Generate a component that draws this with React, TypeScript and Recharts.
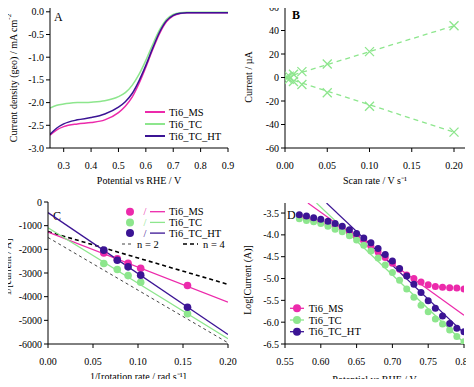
import React from 'react';
import { ComposedChart, Line, Scatter, XAxis, YAxis, Legend } from 'recharts';

const PINK = '#ec2aab';
const GREEN = '#8de68d';
const NAVY = '#3b1494';
const FONT = '"Liberation Serif", "Times New Roman", Times, serif';

// A - polarisation curves
const potentialA = [0.25, 0.275, 0.3, 0.35, 0.4, 0.45, 0.5, 0.525, 0.55, 0.575, 0.6, 0.625, 0.65, 0.675, 0.7, 0.725, 0.75, 0.8, 0.85, 0.9];
const msA = [-2.72, -2.6, -2.53, -2.47, -2.44, -2.38, -2.22, -2.08, -1.88, -1.58, -1.22, -0.83, -0.48, -0.22, -0.09, -0.04, -0.02, -0.02, -0.02, -0.02];
const tcA = [-2.12, -2.06, -2.03, -2.0, -1.99, -1.96, -1.87, -1.78, -1.62, -1.38, -1.07, -0.72, -0.4, -0.17, -0.06, -0.02, -0.01, -0.01, -0.01, -0.01];
const htA = [-2.7, -2.56, -2.47, -2.38, -2.33, -2.25, -2.1, -1.98, -1.8, -1.52, -1.18, -0.8, -0.45, -0.2, -0.08, -0.03, -0.02, -0.02, -0.02, -0.02];
const ticksAx = [0.3, 0.4, 0.5, 0.6, 0.7, 0.8, 0.9];
const ticksAy = [-3, -2.5, -2, -1.5, -1, -0.5, 0];

// B - capacitive current vs scan rate
const scanRate = [0.002, 0.005, 0.01, 0.02, 0.05, 0.1, 0.2];
const anodic = [0.5, 1.2, 2.8, 5, 11.5, 22, 44];
const cathodic = [-0.5, -1.5, -3.4, -6, -13, -24.5, -46.5];
const fitRateB = [0, 0.2];
const fitAnodic = [0, 44];
const fitCathodic = [0, -46.5];
const ticksBx = [0, 0.05, 0.1, 0.15, 0.2];
const ticksBy = [-60, -40, -20, 0, 20, 40, 60];

// C - Koutecky-Levich
const invRotation = [0.062, 0.077, 0.089, 0.103, 0.155];
const msC = [-2150, -2400, -2590, -2800, -3530];
const tcC = [-2600, -2850, -3110, -3390, -4720];
const htC = [-2035, -2460, -2740, -3090, -4450];
const fitX = [0, 0.2];
const msFitC = [-1270, -4230];
const tcFitC = [-1090, -5780];
const htFitC = [-450, -5600];
const n2C = [-1500, -5950];
const n4C = [-1250, -3480];
const ticksCx = [0, 0.05, 0.1, 0.15, 0.2];
const ticksCy = [-6000, -5000, -4000, -3000, -2000, -1000, 0];

// D - Tafel
const potentialD = [0.57, 0.58, 0.59, 0.6, 0.61, 0.62, 0.63, 0.64, 0.65, 0.66, 0.67, 0.68, 0.69, 0.7, 0.71, 0.72, 0.73, 0.74, 0.75, 0.76, 0.77, 0.78, 0.79, 0.8];
const msD = [-3.58, -3.62, -3.66, -3.7, -3.75, -3.81, -3.87, -3.95, -4.04, -4.14, -4.26, -4.39, -4.52, -4.65, -4.79, -4.92, -5.0, -5.08, -5.14, -5.18, -5.2, -5.21, -5.22, -5.24];
const tcD = [-3.63, -3.67, -3.7, -3.74, -3.8, -3.87, -3.93, -4.02, -4.12, -4.24, -4.37, -4.53, -4.69, -4.86, -5.04, -5.24, -5.43, -5.61, -5.76, -5.93, -6.04, -6.18, -6.33, -6.45];
const htD = [-3.54, -3.57, -3.61, -3.64, -3.69, -3.74, -3.8, -3.88, -3.97, -4.07, -4.18, -4.31, -4.45, -4.6, -4.77, -4.94, -5.13, -5.32, -5.51, -5.68, -5.86, -6.03, -6.14, -6.22];
const msFitD = { x: [0.582, 0.8], y: [-3.27, -5.84] };
const tcFitD = { x: [0.594, 0.8], y: [-3.27, -6.47] };
const htFitD = { x: [0.608, 0.8], y: [-3.27, -6.25] };
const ticksDx = [0.55, 0.6, 0.65, 0.7, 0.75, 0.8];
const ticksDy = [-6.5, -6, -5.5, -5, -4.5, -4, -3.5];

const seriesNames = ['Ti6_MS', 'Ti6_TC', 'Ti6_TC_HT'];
const seriesColors = [PINK, GREEN, NAVY];

const zip = (xs: number[], ys: number[]) => xs.map((x, i) => ({ x, y: ys[i] }));

const tickStyle = { fontSize: 10, fill: '#000' };

const dot = (color: string, r: number) => (p: any) => <circle cx={p.cx} cy={p.cy} r={r} fill={color} />;
const cross = (color: string) => (p: any) => (
  <path
    d={`M${p.cx - 4.5},${p.cy - 4.5}L${p.cx + 4.5},${p.cy + 4.5}M${p.cx - 4.5},${p.cy + 4.5}L${p.cx + 4.5},${p.cy - 4.5}`}
    stroke={color}
    strokeWidth={1.3}
    fill="none"
  />
);

// top and right axis lines close the box around each plot
const frame = (xDomain: number[], yDomain: number[]) => [
  <XAxis key="ft" xAxisId="top" orientation="top" type="number" domain={xDomain} allowDataOverflow height={0} tick={false} tickLine={false} stroke="#000" />,
  <YAxis key="fr" yAxisId="right" orientation="right" type="number" domain={yDomain} allowDataOverflow width={0} tick={false} tickLine={false} stroke="#000" />,
];

// rotated y-axis title, centred on (x, y)
const YTitle = ({ x, y, children }: { x: number; y: number; children: React.ReactNode }) => (
  <text x={x} y={y} transform={`rotate(-90, ${x}, ${y})`} textAnchor="middle" dominantBaseline="central" fontSize={10} fill="#000">
    {children}
  </text>
);

const LegendA = () => (
  <svg width={95} height={40} style={{ fontFamily: FONT }}>
    {seriesNames.map((name, i) => (
      <g key={name}>
        <line x1={5} x2={25} y1={8 + i * 12} y2={8 + i * 12} stroke={seriesColors[i]} strokeWidth={2} />
        <text x={29} y={8 + i * 12 + 3.5} fontSize={10.5} fill="#000">{name}</text>
      </g>
    ))}
  </svg>
);

const LegendC = () => (
  <svg width={118} height={46} style={{ fontFamily: FONT }}>
    {seriesNames.map((name, i) => {
      const y = 7.7 + i * 10.7;
      return (
        <g key={name}>
          <circle cx={12} cy={y} r={4} fill={seriesColors[i]} />
          <text x={27} y={y + 3.5} fontSize={10.5} fill={seriesColors[i]} textAnchor="middle">/</text>
          <line x1={32} x2={47} y1={y} y2={y} stroke={seriesColors[i]} strokeWidth={1.3} />
          <text x={51} y={y + 3.5} fontSize={10.5} fill="#000">{name}</text>
        </g>
      );
    })}
    <line x1={4} x2={15} y1={40} y2={40} stroke="#444" strokeWidth={1} strokeDasharray="3 3" />
    <text x={19} y={43.5} fontSize={10.5} fill="#000">n = 2</text>
    <line x1={65} x2={80} y1={40} y2={40} stroke="#000" strokeWidth={1.6} strokeDasharray="4 3" />
    <text x={85} y={43.5} fontSize={10.5} fill="#000">n = 4</text>
  </svg>
);

const LegendD = () => (
  <svg width={80} height={40} style={{ fontFamily: FONT }}>
    {seriesNames.map((name, i) => {
      const y = 8.3 + i * 11.7;
      return (
        <g key={name}>
          <line x1={3} x2={17} y1={y} y2={y} stroke={seriesColors[i]} strokeWidth={1.3} />
          <circle cx={10} cy={y} r={4} fill={seriesColors[i]} />
          <text x={21.7} y={y + 3.5} fontSize={10.5} fill="#000">{name}</text>
        </g>
      );
    })}
  </svg>
);

const legendWrap = (left: number, top: number, width: number, height: number) => ({
  layout: 'vertical' as const,
  align: 'center' as const,
  verticalAlign: 'middle' as const,
  wrapperStyle: { left, top, width, height, margin: 0 },
});

const PanelA = () => (
  <ComposedChart width={237} height={190} margin={{ top: 5, right: 9, bottom: 0, left: 0 }}>
    <XAxis dataKey="x" type="number" domain={[0.25, 0.9]} ticks={ticksAx} tickFormatter={(v) => v.toFixed(1)} allowDataOverflow
      height={42} tickSize={4} tickMargin={10} stroke="#000" tick={tickStyle}
      label={{ value: 'Potential vs RHE / V', position: 'insideBottom', offset: 6, fontSize: 10, fill: '#000' }} />
    <YAxis dataKey="y" type="number" domain={[-3, 0.15]} ticks={ticksAy} tickFormatter={(v) => v.toFixed(1)} allowDataOverflow
      width={50} tickSize={4} tickMargin={2} stroke="#000" tick={tickStyle} />
    {frame([0.25, 0.9], [-3, 0.15])}
    <Line data={zip(potentialA, msA)} dataKey="y" type="monotone" stroke={PINK} strokeWidth={1.5} dot={false} isAnimationActive={false} />
    <Line data={zip(potentialA, tcA)} dataKey="y" type="monotone" stroke={GREEN} strokeWidth={1.5} dot={false} isAnimationActive={false} />
    <Line data={zip(potentialA, htA)} dataKey="y" type="monotone" stroke={NAVY} strokeWidth={1.5} dot={false} isAnimationActive={false} />
    <Legend {...legendWrap(140, 104, 95, 40)} content={() => <LegendA />} />
    <YTitle x={13} y={78}>
      Current density (geo) / mA cm<tspan fontSize={7} dy={-4}>-2</tspan>
    </YTitle>
    <text x={54} y={20.5} fontSize={12} fill="#000">A</text>
  </ComposedChart>
);

const PanelB = () => (
  <ComposedChart width={237} height={190} margin={{ top: 7, right: 9, bottom: 0, left: 0 }}>
    <XAxis dataKey="x" type="number" domain={[0, 0.213]} ticks={ticksBx} tickFormatter={(v) => v.toFixed(2)} allowDataOverflow
      height={42} tickSize={4} tickMargin={10} stroke="#000" tick={tickStyle}
      label={{ value: 'Scan rate / V s⁻¹', position: 'insideBottom', offset: 6, fontSize: 10, fill: '#000' }} />
    <YAxis dataKey="y" type="number" domain={[-60, 60]} ticks={ticksBy} allowDataOverflow
      width={48} tickSize={4} tickMargin={2} stroke="#000" tick={tickStyle} />
    {frame([0, 0.213], [-60, 60])}
    <Line data={zip(fitRateB, fitAnodic)} dataKey="y" stroke={GREEN} strokeWidth={1.3} strokeDasharray="5 4" dot={false} isAnimationActive={false} />
    <Line data={zip(fitRateB, fitCathodic)} dataKey="y" stroke={GREEN} strokeWidth={1.3} strokeDasharray="5 4" dot={false} isAnimationActive={false} />
    <Scatter data={zip(scanRate, anodic)} shape={cross(GREEN)} isAnimationActive={false} />
    <Scatter data={zip(scanRate, cathodic)} shape={cross(GREEN)} isAnimationActive={false} />
    <YTitle x={11} y={77}>Current / µA</YTitle>
    <text x={55} y={18.5} fontSize={12} fontWeight="bold" fill="#000">B</text>
  </ComposedChart>
);

const PanelC = () => (
  <ComposedChart width={237} height={197} margin={{ top: 12, right: 9, bottom: 0, left: 0 }}>
    <XAxis dataKey="x" type="number" domain={[0, 0.2]} ticks={ticksCx} tickFormatter={(v) => v.toFixed(2)} allowDataOverflow
      height={43} tickSize={4} tickMargin={10} stroke="#000" tick={tickStyle}
      label={{ value: '1/[rotation rate / rad s⁻¹]', position: 'insideBottom', offset: 7, fontSize: 10, fill: '#000' }} />
    <YAxis dataKey="y" type="number" domain={[-6000, 0]} ticks={ticksCy} allowDataOverflow
      width={48} tickSize={4} tickMargin={2} stroke="#000" tick={tickStyle} />
    {frame([0, 0.2], [-6000, 0])}
    <Line data={zip(fitX, n2C)} dataKey="y" stroke="#444" strokeWidth={1} strokeDasharray="3 3" dot={false} isAnimationActive={false} />
    <Line data={zip(fitX, n4C)} dataKey="y" stroke="#000" strokeWidth={1.6} strokeDasharray="4 3" dot={false} isAnimationActive={false} />
    <Line data={zip(fitX, msFitC)} dataKey="y" stroke={PINK} strokeWidth={1.3} dot={false} isAnimationActive={false} />
    <Line data={zip(fitX, tcFitC)} dataKey="y" stroke={GREEN} strokeWidth={1.3} dot={false} isAnimationActive={false} />
    <Line data={zip(fitX, htFitC)} dataKey="y" stroke={NAVY} strokeWidth={1.3} dot={false} isAnimationActive={false} />
    <Scatter data={zip(invRotation, msC)} shape={dot(PINK, 3.8)} isAnimationActive={false} />
    <Scatter data={zip(invRotation, tcC)} shape={dot(GREEN, 3.8)} isAnimationActive={false} />
    <Scatter data={zip(invRotation, htC)} shape={dot(NAVY, 3.8)} isAnimationActive={false} />
    <Legend {...legendWrap(118, 14, 118, 46)} content={() => <LegendC />} />
    <YTitle x={7} y={77}>1/[current / A]</YTitle>
    <text x={53} y={29.5} fontSize={12} fill="#000">C</text>
  </ComposedChart>
);

const PanelD = () => (
  <ComposedChart width={237} height={197} margin={{ top: 13, right: 10, bottom: 0, left: 0 }}>
    <XAxis dataKey="x" type="number" domain={[0.55, 0.8]} ticks={ticksDx} tickFormatter={(v) => v.toFixed(2)} allowDataOverflow
      height={43} tickSize={4} tickMargin={10} stroke="#000" tick={tickStyle}
      label={{ value: 'Potential vs RHE / V', position: 'insideBottom', offset: 4, fontSize: 10, fill: '#000' }} />
    <YAxis dataKey="y" type="number" domain={[-6.5, -3.27]} ticks={ticksDy} tickFormatter={(v) => v.toFixed(1)} allowDataOverflow
      width={48} tickSize={4} tickMargin={2} stroke="#000" tick={tickStyle} />
    {frame([0.55, 0.8], [-6.5, -3.27])}
    <Scatter data={zip(potentialD, msD)} shape={dot(PINK, 3.5)} isAnimationActive={false} />
    <Scatter data={zip(potentialD, tcD)} shape={dot(GREEN, 3.5)} isAnimationActive={false} />
    <Scatter data={zip(potentialD, htD)} shape={dot(NAVY, 3.5)} isAnimationActive={false} />
    <Line data={zip(msFitD.x, msFitD.y)} dataKey="y" stroke={PINK} strokeWidth={1.2} dot={false} isAnimationActive={false} />
    <Line data={zip(tcFitD.x, tcFitD.y)} dataKey="y" stroke={GREEN} strokeWidth={1.2} dot={false} isAnimationActive={false} />
    <Line data={zip(htFitD.x, htFitD.y)} dataKey="y" stroke={NAVY} strokeWidth={1.2} dot={false} isAnimationActive={false} />
    <Legend {...legendWrap(50, 110, 80, 40)} content={() => <LegendD />} />
    <YTitle x={10} y={90}>Log[Current (A)]</YTitle>
    <text x={50} y={28.5} fontSize={12} fill="#000">D</text>
  </ComposedChart>
);

const cell = (left: number, top: number): React.CSSProperties => ({ position: 'absolute', left, top });

export default function App() {
  return (
    <div style={{ position: 'relative', width: 474, height: 387, margin: -8, background: '#fff', fontFamily: FONT }}>
      <div style={cell(0, 0)}><PanelA /></div>
      <div style={cell(237, 0)}><PanelB /></div>
      <div style={cell(0, 190)}><PanelC /></div>
      <div style={cell(237, 190)}><PanelD /></div>
    </div>
  );
}
